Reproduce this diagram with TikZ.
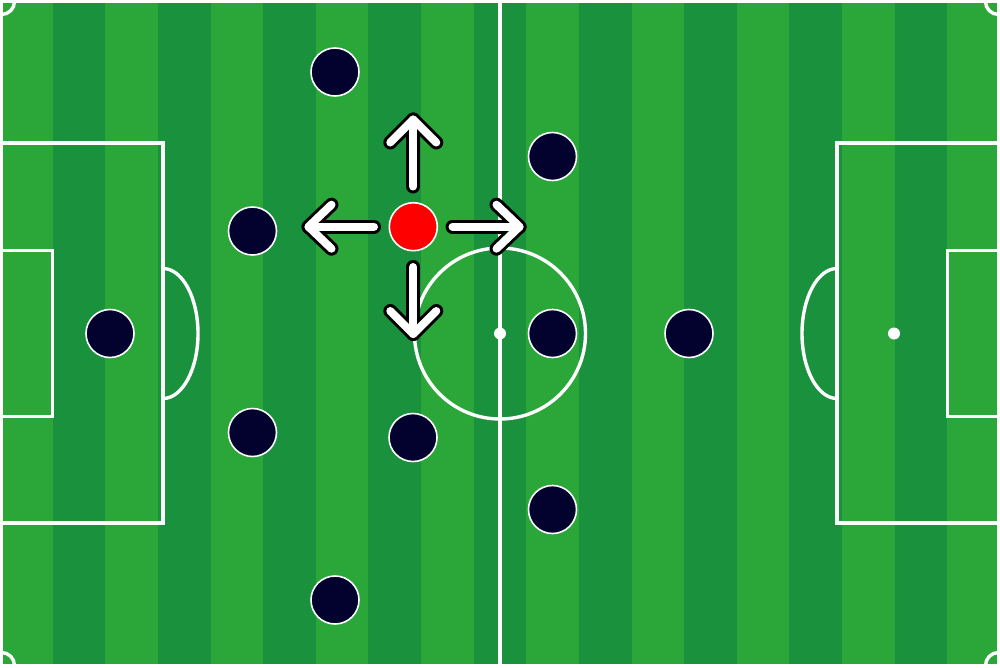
\documentclass[tikz,border=0pt]{standalone}
\usetikzlibrary{calc}
\definecolor{lightgrass}{HTML}{2BA739}
\definecolor{darkgrass}{HTML}{1A913D}
\definecolor{navy}{HTML}{03022F}
\definecolor{redplayer}{HTML}{FF0000}
\tikzset{
  pitchline/.style={draw=white, line width=3.4pt},
  player/.style={circle, fill=navy, draw=white, line width=1.6pt, minimum size=48pt, inner sep=0pt},
  ballcarrier/.style={circle, fill=redplayer, draw=white, line width=1.6pt, minimum size=48pt, inner sep=0pt},
  arrowout/.style={draw=black, line width=14pt, line cap=round, line join=round},
  arrowin/.style={draw=white, line width=8pt, line cap=round, line join=round},
  spot/.style={circle, fill=white, minimum size=12pt, inner sep=0pt},
}
\begin{document}
\begin{tikzpicture}[x=1pt, y=-1pt]
\useasboundingbox (0,0) rectangle (1000,667);
% stripes
\foreach \i in {0,...,18} {
  \pgfmathsetmacro{\xa}{\i*52.63158}
  \pgfmathsetmacro{\xb}{(\i+1)*52.63158}
  \ifodd\i
    \fill[darkgrass] (\xa,0) rectangle (\xb,667);
  \else
    \fill[lightgrass] (\xa,0) rectangle (\xb,667);
  \fi
}
% outer lines
\draw[pitchline] (1.5,1.5) rectangle (998.5,665.5);
% corner arcs
\draw[pitchline] (14.5,1.5) arc[start angle=0, end angle=90, radius=13];
\draw[pitchline] (985.5,1.5) arc[start angle=180, end angle=90, radius=13];
\draw[pitchline] (14.5,665.5) arc[start angle=0, end angle=-90, radius=13];
\draw[pitchline] (985.5,665.5) arc[start angle=180, end angle=270, radius=13];
% halfway line and centre circle
\draw[pitchline] (500,1.5) -- (500,665.5);
\draw[pitchline] (500,333.5) circle[radius=85.5];
\node[spot] (cspot) at (500,333.5) {};
% left penalty area
\draw[pitchline] (1.5,143) -- (163,143) -- (163,523) -- (1.5,523);
\draw[pitchline] (1.5,250.5) -- (52.5,250.5) -- (52.5,416.5) -- (1.5,416.5);
\draw[pitchline] (163,268.5) arc[x radius=35, y radius=65, start angle=-90, end angle=90];
\node[spot] (lspot) at (106,333.5) {};
% right penalty area
\draw[pitchline] (998.5,143) -- (837,143) -- (837,523) -- (998.5,523);
\draw[pitchline] (998.5,250.5) -- (947.5,250.5) -- (947.5,416.5) -- (998.5,416.5);
\draw[pitchline] (837,268.5) arc[x radius=35, y radius=65, start angle=-90, end angle=-270];
\node[spot] (rspot) at (894,333.5) {};
% players
\node[player] (p1) at (335,72) {};
\node[player] (p2) at (552.5,156.5) {};
\node[player] (p3) at (252.5,231) {};
\node[player] (p4) at (110,333.5) {};
\node[player] (p5) at (552.5,333.5) {};
\node[player] (p6) at (689,333.5) {};
\node[player] (p7) at (252.5,432.5) {};
\node[player] (p8) at (413,437.5) {};
\node[player] (p9) at (552.5,509.5) {};
\node[player] (p10) at (335,600) {};
\node[ballcarrier] (red) at (413.3,226.7) {};
% arrow points
\coordinate (upS) at (413.3,186.5);
\coordinate (upT) at (413.3,119.5);
\coordinate (dnS) at (413.3,267);
\coordinate (dnT) at (413.3,334);
\coordinate (lfS) at (374,226.7);
\coordinate (lfT) at (308.5,226.7);
\coordinate (rtS) at (452.5,226.7);
\coordinate (rtT) at (519.5,226.7);
\foreach \s/\t/\a/\b in {upS/upT/{-23,23}/{23,23}, dnS/dnT/{-23,-23}/{23,-23}, lfS/lfT/{23,-22}/{23,22}, rtS/rtT/{-23,-22}/{-23,22}} {
  \draw[arrowout] (\s) -- (\t);
  \draw[arrowout] ($(\t)+(\a)$) -- (\t) -- ($(\t)+(\b)$);
}
\foreach \s/\t/\a/\b in {upS/upT/{-23,23}/{23,23}, dnS/dnT/{-23,-23}/{23,-23}, lfS/lfT/{23,-22}/{23,22}, rtS/rtT/{-23,-22}/{-23,22}} {
  \draw[arrowin] (\s) -- (\t);
  \draw[arrowin] ($(\t)+(\a)$) -- (\t) -- ($(\t)+(\b)$);
}
\end{tikzpicture}
\end{document}
